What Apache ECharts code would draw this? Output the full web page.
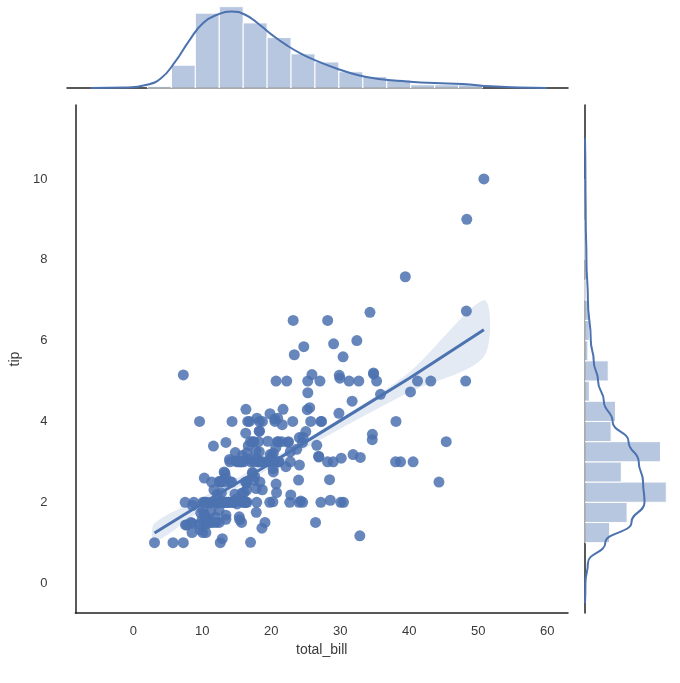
<!DOCTYPE html>
<html>
<head>
<meta charset="UTF-8">
<script src="https://cdn.jsdelivr.net/npm/echarts@6/dist/echarts.min.js"></script>
<style>html,body{margin:0;background:#fff}#main{width:680px;height:683px}</style>
</head>
<body>
<div id="main"></div>
<script>
// tips data: total_bill / tip
var totalBill = [16.99,10.34,21.01,23.68,24.59,25.29,8.77,26.88,15.04,14.78,10.27,35.26,15.42,18.43,14.83,21.58,10.33,16.29,16.97,20.65,17.92,20.29,15.77,39.42,19.82,17.81,13.37,12.69,21.7,19.65,9.55,18.35,15.06,20.69,17.78,24.06,16.31,16.93,18.69,31.27,16.04,17.46,13.94,9.68,30.4,18.29,22.23,32.4,28.55,18.04,12.54,10.29,34.81,9.94,25.56,19.49,38.01,26.41,11.24,48.27,20.29,13.81,11.02,18.29,17.59,20.08,16.45,3.07,20.23,15.01,12.02,17.07,26.86,25.28,14.73,10.51,17.92,27.2,22.76,17.29,19.44,16.66,10.07,32.68,15.98,34.83,13.03,18.28,24.71,21.16,28.97,22.49,5.75,16.32,22.75,40.17,27.28,12.03,21.01,12.46,11.35,15.38,44.3,22.42,20.92,15.36,20.49,25.21,18.24,14.31,14.0,7.25,38.07,23.95,25.71,17.31,29.93,10.65,12.43,24.08,11.69,13.42,14.26,15.95,12.48,29.8,8.52,14.52,11.38,22.82,19.08,20.27,11.17,12.26,18.26,8.51,10.33,14.15,16.0,13.16,17.47,34.3,41.19,27.05,16.43,8.35,18.64,11.87,9.78,7.51,14.07,13.13,17.26,24.55,19.77,29.85,48.17,25.0,13.39,16.49,21.5,12.66,16.21,13.81,17.51,24.52,20.76,31.71,10.59,10.63,50.81,15.81,7.25,31.85,16.82,32.9,17.89,14.48,9.6,34.63,34.65,23.33,45.35,23.17,40.55,20.69,20.9,30.46,18.15,23.1,15.69,19.81,28.44,15.48,16.58,7.56,10.34,43.11,13.0,13.51,18.71,12.74,13.0,16.4,20.53,16.47,26.59,38.73,24.27,12.76,30.06,25.89,48.33,13.27,28.17,12.9,28.15,11.59,7.74,30.14,12.16,13.42,8.58,15.98,13.42,16.27,10.09,20.45,13.28,22.12,24.01,15.69,11.61,10.77,15.53,10.07,12.6,32.83,35.83,29.03,27.18,22.67,17.82,18.78];
var tip = [1.01,1.66,3.5,3.31,3.61,4.71,2.0,3.12,1.96,3.23,1.71,5.0,1.57,3.0,3.02,3.92,1.67,3.71,3.5,3.35,4.08,2.75,2.23,7.58,3.18,2.34,2.0,2.0,4.3,3.0,1.45,2.5,3.0,2.45,3.27,3.6,2.0,3.07,2.31,5.0,2.24,2.54,3.06,1.32,5.6,3.0,5.0,6.0,2.05,3.0,2.5,2.6,5.2,1.56,4.34,3.51,3.0,1.5,1.76,6.73,3.21,2.0,1.98,3.76,2.64,3.15,2.47,1.0,2.01,2.09,1.97,3.0,3.14,5.0,2.2,1.25,3.08,4.0,3.0,2.71,3.0,3.4,1.83,5.0,2.03,5.17,2.0,4.0,5.85,3.0,3.0,3.5,1.0,4.3,3.25,4.73,4.0,1.5,3.0,1.5,2.5,3.0,2.5,3.48,4.08,1.64,4.06,4.29,3.76,4.0,3.0,1.0,4.0,2.55,4.0,3.5,5.07,1.5,1.8,2.92,2.31,1.68,2.5,2.0,2.52,4.2,1.48,2.0,2.0,2.18,1.5,2.83,1.5,2.0,3.25,1.25,2.0,2.0,2.0,2.75,3.5,6.7,5.0,5.0,2.3,1.5,1.36,1.63,1.73,2.0,2.5,2.0,2.74,2.0,2.0,5.14,5.0,3.75,2.61,2.0,3.5,2.5,2.0,2.0,3.0,3.48,2.24,4.5,1.61,2.0,10.0,3.16,5.15,3.18,4.0,3.11,2.0,2.0,4.0,3.55,3.68,5.65,3.5,6.5,3.0,5.0,3.5,2.0,3.5,4.0,1.5,4.19,2.56,2.02,4.0,1.44,2.0,5.0,2.0,2.0,4.0,2.01,2.0,2.5,4.0,3.23,3.41,3.0,2.03,2.23,2.0,5.16,9.0,2.5,6.5,1.1,3.0,1.5,1.44,3.09,2.2,3.48,1.92,3.0,1.58,2.5,2.0,3.0,2.72,2.88,2.0,3.0,3.39,1.47,3.0,1.25,1.0,1.17,4.67,5.92,2.0,2.0,1.75,3.0];

// regression line and confidence band
var regX = [3.07, 10, 20, 30, 40, 50.81];
var regY = [1.24, 1.97, 2.97, 4.02, 5.07, 6.27];
var bandLow = [1.02, 1.82, 2.86, 3.82, 4.72, 5.6];
var bandHigh = [1.48, 2.12, 3.07, 4.08, 5.22, 7.0];

// top histogram (total_bill)
var billEdges = [3.07,6.48,9.89,13.3,16.71,20.12,23.53,26.94,30.35,33.76,37.17,40.58,43.99,47.4,50.81];
var billCounts = [1,14,46,50,40,31,21,16,10,7,5,2,2,2];
var billKdeX = [-5,0,3,5,7,9,11,13,15,17,19,21,23,25,27,30,33,36,40,44,48,52,56,60];
var billKdeY = [0,0.3,2,6,16,29,40,45,47,45,39,32,26,21,17,12,8,5.5,4,3,2.5,1,0.3,0];

// right histogram (tip)
var tipEdges = [1,1.5,2,2.5,3,3.5,4,4.5,5,5.5,6,6.5,7,7.5,8,8.5,9,9.5,10];
var tipCounts = [17,29,56,25,52,18,21,3,16,2,3,3,0,1,0,0,1,1];
var tipKdeY = [-0.5,0,0.5,1,1.5,2,2.5,3,3.5,4,4.5,5,5.5,6,7,8,9,10,11];
var tipKdeX = [0,0.3,2,14,32,41,40,37,30,19,13,9,6,4,2,1,0.5,0.3,0];

var BLUE = '#4C72B0';
var TXT = '#3a3a3a';
var xr = {min: -8.4, max: 63};
var yr = {min: -0.74, max: 11.83};

function zip(a, b) { return a.map(function (v, i) { return [v, b[i]]; }); }
function bins(edges, counts) { return counts.map(function (c, i) { return [edges[i], edges[i + 1], c]; }); }

var chart = echarts.init(document.getElementById('main'));
chart.setOption({
  animation: false,
  grid: [
    {left: 67, top: 105, width: 501, height: 508},
    {left: 67, top: 5, width: 501, height: 83},
    {left: 585, top: 105, width: 90, height: 508}
  ],
  xAxis: [
    {gridIndex: 0, type: 'value', min: xr.min, max: xr.max, splitLine: {show: false},
     name: 'total_bill', nameLocation: 'middle', nameGap: 30, nameTextStyle: {color: TXT, fontSize: 14},
     axisLine: {onZero: false, lineStyle: {color: '#222', width: 1.5}}, axisTick: {show: false},
     axisLabel: {customValues: [0,10,20,30,40,50,60], color: TXT, fontSize: 13, margin: 12}},
    {gridIndex: 1, type: 'value', min: xr.min, max: xr.max, splitLine: {show: false},
     axisLine: {onZero: false, lineStyle: {color: '#222', width: 1.5}}, axisTick: {show: false}, axisLabel: {show: false}},
    {gridIndex: 2, type: 'value', min: 0, max: 62, show: false}
  ],
  yAxis: [
    {gridIndex: 0, type: 'value', min: yr.min, max: yr.max, splitLine: {show: false},
     name: 'tip', nameLocation: 'middle', nameGap: 46, nameTextStyle: {color: TXT, fontSize: 14},
     axisLine: {show: true, onZero: false, lineStyle: {color: '#222', width: 1.5}}, axisTick: {show: false},
     axisLabel: {customValues: [0,2,4,6,8,10], color: TXT, fontSize: 13, margin: 28}},
    {gridIndex: 1, type: 'value', min: 0, max: 51, show: false},
    {gridIndex: 2, type: 'value', min: yr.min, max: yr.max, splitLine: {show: false},
     axisLine: {show: true, onZero: false, lineStyle: {color: '#222', width: 1.5}}, axisTick: {show: false}, axisLabel: {show: false}}
  ],
  series: [
    {type: 'custom', xAxisIndex: 0, yAxisIndex: 0, silent: true, data: [0],
     renderItem: function (params, api) {
       var pts = [];
       regX.forEach(function (x, i) { pts.push(api.coord([x, bandHigh[i]])); });
       for (var i = regX.length - 1; i >= 0; i--) pts.push(api.coord([regX[i], bandLow[i]]));
       return {type: 'polygon', shape: {points: pts, smooth: 0.3}, style: {fill: 'rgba(76,114,176,0.15)'}};
     }},
    {type: 'scatter', xAxisIndex: 0, yAxisIndex: 0, data: zip(totalBill, tip), symbolSize: 11,
     itemStyle: {color: BLUE, opacity: 0.85}},
    {type: 'line', xAxisIndex: 0, yAxisIndex: 0, data: zip(regX, regY), symbol: 'none',
     lineStyle: {color: BLUE, width: 3}},
    {type: 'custom', xAxisIndex: 1, yAxisIndex: 1, data: bins(billEdges, billCounts),
     renderItem: function (params, api) {
       var a = api.coord([api.value(0), api.value(2)]);
       var b = api.coord([api.value(1), 0]);
       return {type: 'rect', shape: {x: a[0], y: a[1], width: b[0] - a[0], height: b[1] - a[1]},
               style: {fill: 'rgba(76,114,176,0.4)', stroke: '#fff', lineWidth: 1}};
     }},
    {type: 'line', xAxisIndex: 1, yAxisIndex: 1, data: zip(billKdeX, billKdeY), smooth: true,
     symbol: 'none', lineStyle: {color: BLUE, width: 2}},
    {type: 'custom', xAxisIndex: 2, yAxisIndex: 2, data: bins(tipEdges, tipCounts),
     renderItem: function (params, api) {
       var a = api.coord([0, api.value(1)]);
       var b = api.coord([api.value(2), api.value(0)]);
       return {type: 'rect', shape: {x: a[0], y: a[1], width: b[0] - a[0], height: b[1] - a[1]},
               style: {fill: 'rgba(76,114,176,0.4)', stroke: '#fff', lineWidth: 1}};
     }},
    {type: 'line', xAxisIndex: 2, yAxisIndex: 2, data: zip(tipKdeX, tipKdeY), smooth: true,
     smoothMonotone: 'y', symbol: 'none', lineStyle: {color: BLUE, width: 2}}
  ]
});
</script>
</body>
</html>
